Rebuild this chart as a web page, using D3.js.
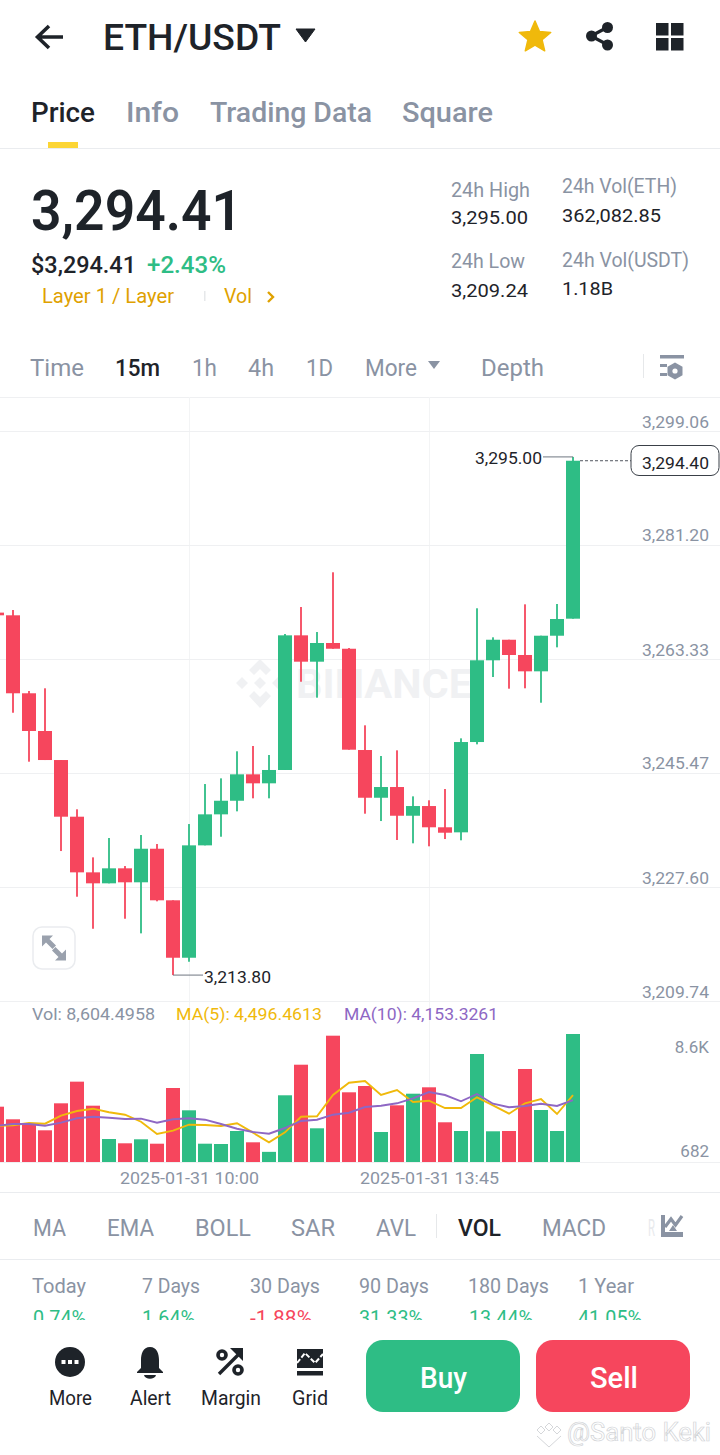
<!DOCTYPE html>
<html>
<head>
<meta charset="utf-8">
<script src="https://d3js.org/d3.v7.min.js"></script>
<style>
  html, body { margin: 0; padding: 0; background: #fff; overflow: hidden; }
  svg { display: block; }
  text { font-family: Roboto, "Noto Sans", sans-serif; }
</style>
</head>
<body>
<div id="chart"></div>
<script>
// candle index runs -1..35, each one is 15 minutes
var candleIdx = [-1,0,1,2,3,4,5,6,7,8,9,10,11,12,13,14,15,16,17,18,19,20,21,22,23,24,25,26,27,28,29,30,31,32,33,34,35];
var opens  = [3270.60,3270.18,3257.96,3252.05,3247.50,3238.62,3229.90,3228.18,3230.53,3228.34,3233.60,3225.52,3216.52,3234.13,3238.99,3241.12,3245.26,3243.85,3245.94,3267.04,3262.91,3265.84,3264.94,3249.07,3241.59,3243.27,3238.77,3240.29,3236.96,3236.17,3250.32,3263.13,3266.35,3263.96,3261.40,3266.98,3269.65];
var closes = [3270.18,3257.96,3252.05,3247.50,3238.62,3229.90,3228.18,3230.53,3228.34,3233.60,3225.52,3216.52,3234.13,3238.99,3241.12,3245.26,3243.85,3245.94,3267.04,3262.91,3265.84,3264.94,3249.12,3241.59,3243.27,3238.77,3240.29,3236.96,3236.11,3250.32,3263.13,3266.35,3263.96,3261.40,3266.98,3269.60,3294.40];
var highs  = [3270.60,3271.01,3258.32,3258.74,3247.50,3239.78,3232.25,3235.28,3230.89,3235.75,3234.34,3225.52,3237.47,3243.74,3244.63,3248.87,3249.70,3248.29,3267.25,3271.48,3267.56,3276.92,3265.05,3252.94,3248.13,3249.02,3241.81,3241.19,3242.96,3250.90,3271.28,3266.73,3266.35,3271.90,3266.98,3271.95,3295.00];
var lows   = [3270.18,3254.91,3247.24,3247.50,3233.24,3226.08,3221.06,3228.18,3222.63,3220.34,3225.36,3213.80,3215.89,3234.13,3235.48,3239.46,3241.50,3241.50,3245.94,3259.77,3257.27,3264.94,3249.12,3239.09,3237.94,3234.97,3234.45,3233.98,3235.12,3234.92,3249.96,3260.51,3258.68,3258.74,3256.48,3265.16,3269.65];
var volumes = [3718,2870,2600,2130,3945,5400,3785,1546,1257,1526,1230,4974,3475,1230,1210,2084,1324,682,4484,6540,2265,8490,4685,5109,2017,3811,4591,5021,2669,2084,7260,2064,2084,6252,3496,2084,8604];
var ma5  = [2420,2467,2622,2575,3112,3428,3583,3341,3180,2709,1882,2104,2507,2487,2420,2601,1970,1324,1996,3045,3072,4504,5331,5445,4504,4840,4033,4121,3630,3630,4349,3811,3247,3946,4235,3227,4496];
var ma10 = [2440,2554,2554,2440,2642,2938,3045,2978,2890,2911,2642,2870,2938,2843,2554,2238,2017,1902,2285,2756,2843,3180,3314,3697,3785,3946,4282,4705,4504,4080,4571,3919,3677,3764,3919,3764,4153];

var priceTicks = [3299.06,3281.20,3263.33,3245.47,3227.60,3209.74];
var volTicks = [8604,682];
var volTickLabels = ["8.6K","682"];
var timeTickIdx = [11,26];
var timeTickLabels = ["2025-01-31 10:00","2025-01-31 13:45"];

var GREEN = "#2ebd85", RED = "#f6465d", DARK = "#1e2329", GRAY = "#8a93a3", LINE = "#eff0f2", GOLD = "#f0b90b", PURPLE = "#8e67c4", AMBER = "#dfa100";

var svg = d3.select("#chart").append("svg").attr("width", 720).attr("height", 1455);

// text helper, widths are forced because the app font is not installed
function label(g, t, x, y, w, size, color, weight) {
  return g.append("text").text(t)
    .attr("x", x).attr("y", y)
    .attr("textLength", w).attr("lengthAdjust", "spacingAndGlyphs")
    .attr("font-size", size).attr("fill", color).attr("font-weight", weight || 400);
}
function rows(g, list, y, size, color, weight) {
  list.forEach(function(r) { label(g, r[0], r[1], y, r[2], size, r[3] || color, r[4] || weight); });
}

// ---------- header ----------
var head = svg.append("g");
head.append("path").attr("d", "M63 37H38M49 26L37.500 37L49 48").attr("fill", "none").attr("stroke", DARK).attr("stroke-width", 3.6);
label(head, "ETH/USDT", 103, 50, 178, 36, DARK, 500);
head.append("path").attr("d", "M296 29H315L305.500 42Z").attr("fill", DARK).attr("stroke", DARK).attr("stroke-linejoin", "round");
head.append("path").attr("d", d3.range(10).map(function(i) {
  var r = i % 2 ? 7.5 : 16.5, a = -Math.PI / 2 + i * Math.PI / 5;
  return (i ? "L" : "M") + (535 + r * Math.cos(a)).toFixed(1) + " " + (37.5 + r * Math.sin(a)).toFixed(1);
}).join("") + "Z").attr("fill", GOLD).attr("stroke", GOLD).attr("stroke-linejoin", "round").attr("stroke-width", 1.5);
head.append("path").attr("d", "M608 27L591 36L608 45").attr("fill", "none").attr("stroke", DARK).attr("stroke-width", 3.2);
[[607.5,27.5],[591.5,36],[607.5,45]].forEach(function(p) {
  head.append("circle").attr("cx", p[0]).attr("cy", p[1]).attr("r", 5.5).attr("fill", DARK);
});
[[656,23],[671,23],[656,38],[671,38]].forEach(function(p) {
  head.append("rect").attr("x", p[0]).attr("y", p[1]).attr("width", 12.500).attr("height", 12.500).attr("fill", DARK);
});

rows(head, [["Price",31,64,DARK,500],["Info",126,53],["Trading Data",210,162],["Square",402,91]], 122, 28, GRAY, 500);
head.append("rect").attr("x", 48).attr("y", 142).attr("width", 30).attr("height", 6).attr("fill", "#fcd535");
head.append("rect").attr("x", 0).attr("y", 148).attr("width", 720).attr("height", 1).attr("fill", "#eaecef");

label(head, "3,294.41", 31, 230, 211, 55, DARK, 600);
label(head, "$3,294.41", 31, 273, 105, 24, DARK, 500);
label(head, "+2.43%", 147, 273, 79, 24, GREEN, 500);
label(head, "Layer 1 / Layer", 42, 303, 132, 20, AMBER);
head.append("rect").attr("x", 204).attr("y", 291).attr("width", 1.5).attr("height", 10).attr("fill", "#e6e8ea");
label(head, "Vol", 224, 303, 28, 20, AMBER);
head.append("path").attr("d", "M268 292L273 297L268 302").attr("fill", "none").attr("stroke", AMBER).attr("stroke-width", 2.4);

label(head, "24h High", 451, 197, 79, 20, GRAY);
label(head, "3,295.00", 451, 224, 77, 19, DARK);
label(head, "24h Low", 451, 268, 74, 20, GRAY);
label(head, "3,209.24", 451, 297, 77, 19, DARK);
label(head, "24h Vol(ETH)", 562, 193, 115, 20, GRAY);
label(head, "362,082.85", 562, 222, 99, 19, DARK);
label(head, "24h Vol(USDT)", 562, 267, 127, 20, GRAY);
label(head, "1.18B", 562, 295, 51, 19, DARK);

rows(head, [["Time",30,54],["15m",115,45,DARK,500],["1h",192,25],["4h",248,26],["1D",306,27],["More",365,52],["Depth",481,63]], 376, 24, GRAY);
head.append("path").attr("d", "M428 361H440L434 369Z").attr("fill", GRAY);
head.append("rect").attr("x", 643).attr("y", 354).attr("width", 1).attr("height", 24).attr("fill", "#e6e8ea");
head.append("path").attr("d", "M660 355H684V358.500H660ZM660 364H667V367H660ZM660 373H667V376H660Z").attr("fill", GRAY);
head.append("path").attr("d", "M675 362.500L682.500 366.800V375.200L675 379.500L667.500 375.200V366.800Z").attr("fill", GRAY);
head.append("circle").attr("cx", 675).attr("cy", 371).attr("r", 2.6).attr("fill", "#fff");
head.append("rect").attr("x", 0).attr("y", 397).attr("width", 720).attr("height", 1).attr("fill", LINE);

// ---------- scales ----------
var x = d3.scaleLinear().domain([-1, 35]).range([-3, 573]);
var y = d3.scaleLinear().domain([3299.06, 3209.74]).range([431, 1001]);
var yVol = d3.scaleLinear().domain([0, 8604]).range([1162, 1034]);
var bodyW = 14;

// ---------- grids and axes ----------
var vGrid = svg.append("g").attr("transform", "translate(0,1162)")
  .call(d3.axisBottom(x).tickValues(timeTickIdx).tickFormat(function(d, i) { return timeTickLabels[i]; }).tickSizeInner(-765).tickSizeOuter(0));
vGrid.select(".domain").remove();
vGrid.selectAll("line").attr("stroke", "#f3f4f5");
vGrid.selectAll("text").attr("y", 22).attr("dy", 0).attr("font-size", 17).attr("fill", GRAY)
  .attr("textLength", 139).attr("lengthAdjust", "spacingAndGlyphs");
svg.append("rect").attr("x", 0).attr("y", 1162).attr("width", 720).attr("height", 1).attr("fill", LINE);

var yAxis = svg.append("g")
  .call(d3.axisRight(y).tickValues(priceTicks).tickFormat(d3.format(",.2f")).tickSize(720));
yAxis.select(".domain").remove();
yAxis.selectAll("line").attr("stroke", LINE);
yAxis.selectAll("text").attr("x", 709).attr("dy", -4).attr("text-anchor", "end").attr("font-size", 17).attr("fill", GRAY)
  .attr("textLength", 67).attr("lengthAdjust", "spacingAndGlyphs");

var volAxis = svg.append("g")
  .call(d3.axisRight(yVol).tickValues(volTicks).tickFormat(function(d, i) { return volTickLabels[i]; }).tickSize(0));
volAxis.select(".domain").remove();
volAxis.selectAll("text").attr("x", 709).attr("dy", function(d, i) { return i ? 5 : 18; })
  .attr("text-anchor", "end").attr("font-size", 17).attr("fill", GRAY);

// ---------- watermark ----------
var wm = svg.append("g").attr("fill", "#f0f1f3");
wm.append("path").attr("d", "M260 659L271 670L266 675L260 669L254 675L249 670ZM242 677L248 683L242 689L236 683ZM278 677L284 683L278 689L272 683ZM260 677L266 683L260 689L254 683ZM249 696L254 691L260 697L266 691L271 696L260 708Z");
label(wm, "BINANCE", 296, 698, 176, 40, "#f0f1f3", 700);

// ---------- candles ----------
var cg = svg.append("g").selectAll("g").data(candleIdx).enter().append("g")
  .attr("fill", function(d, i) { return closes[i] >= opens[i] ? GREEN : RED; });
cg.append("rect")
  .attr("x", function(d) { return x(d) - 0.9; }).attr("width", 1.8)
  .attr("y", function(d, i) { return y(highs[i]); })
  .attr("height", function(d, i) { return y(lows[i]) - y(highs[i]); });
cg.append("rect")
  .attr("x", function(d) { return x(d) - bodyW / 2; }).attr("width", bodyW)
  .attr("y", function(d, i) { return y(Math.max(opens[i], closes[i])); })
  .attr("height", function(d, i) { return Math.abs(y(opens[i]) - y(closes[i])); });

// high / low / last price callouts
var call = svg.append("g");
call.append("line").attr("x1", 543).attr("x2", x(35)).attr("y1", y(3295)).attr("y2", y(3295)).attr("stroke", "#6f7680").attr("stroke-width", 1);
label(call, "3,295.00", 475, 464, 67, 17, DARK);
call.append("line").attr("x1", x(10)).attr("x2", 203).attr("y1", y(3213.80)).attr("y2", y(3213.80)).attr("stroke", "#6f7680").attr("stroke-width", 1);
label(call, "3,213.80", 204, 983, 67, 17, DARK);
call.append("line").attr("x1", 580).attr("x2", 631).attr("y1", y(3294.40)).attr("y2", y(3294.40)).attr("stroke", "#50565f").attr("stroke-dasharray", "3,2");
call.append("rect").attr("x", 631).attr("y", 445.500).attr("width", 88).attr("height", 30).attr("rx", 8).attr("fill", "#fff").attr("stroke", "#3a4048");
label(call, "3,294.40", 642, 469, 67, 17, DARK);

// expand button
var ex = svg.append("g");
ex.append("rect").attr("x", 33).attr("y", 927).attr("width", 42).attr("height", 42).attr("rx", 9).attr("fill", "#fff").attr("stroke", "#eaecef").attr("stroke-width", 1.5);
ex.append("path").attr("d", "M42 935.500H53L49.500 939L56 945.500L52.500 949L46 942.500L42 946.500ZM66 960.500H55L58.500 957L52 950.500L55.500 947L62 953.500L66 949.500Z").attr("fill", "#9aa1ad");

// ---------- volume ----------
svg.append("g").selectAll("rect").data(candleIdx).enter().append("rect")
  .attr("x", function(d) { return x(d) - bodyW / 2; }).attr("width", bodyW)
  .attr("y", function(d, i) { return yVol(volumes[i]); })
  .attr("height", function(d, i) { return yVol(0) - yVol(volumes[i]); })
  .attr("fill", function(d, i) { return closes[i] >= opens[i] ? GREEN : RED; });

function maLine(values, color) {
  var line = d3.line().x(function(d) { return x(d); }).y(function(d, i) { return yVol(values[i]); });
  svg.append("path").datum(candleIdx).attr("d", line).attr("fill", "none").attr("stroke", color).attr("stroke-width", 1.9);
}
maLine(ma5, GOLD);
maLine(ma10, PURPLE);

label(svg, "Vol: 8,604.4958", 32, 1020, 123, 17, GRAY);
label(svg, "MA(5): 4,496.4613", 176, 1020, 146, 17, GOLD);
label(svg, "MA(10): 4,153.3261", 344, 1020, 154, 17, PURPLE);

// ---------- bottom ----------
var foot = svg.append("g");
foot.append("rect").attr("x", 0).attr("y", 1192).attr("width", 720).attr("height", 1).attr("fill", "#eaecef");
rows(foot, [["MA",33,33],["EMA",107,47],["BOLL",195,56],["SAR",291,44],["AVL",376,40],["VOL",458,43,DARK,500],["MACD",542,64]], 1236, 23, GRAY);
foot.append("rect").attr("x", 436).attr("y", 1214).attr("width", 1).attr("height", 24).attr("fill", "#e6e8ea");
label(foot, "R", 648, 1236, 7, 23, "#e8eaed");
foot.append("path").attr("d", "M661 1215H665V1232H683V1237H661Z").attr("fill", GRAY);
foot.append("path").attr("d", "M665 1227L671 1219L675.500 1225L682 1216").attr("fill", "none").attr("stroke", GRAY).attr("stroke-width", 3.2);
foot.append("path").attr("d", "M669 1231L673 1225L677 1231Z").attr("fill", GRAY);
foot.append("rect").attr("x", 0).attr("y", 1259).attr("width", 720).attr("height", 1).attr("fill", "#eaecef");

rows(foot, [["Today",32,54],["7 Days",142,58],["30 Days",250,70],["90 Days",359,70],["180 Days",468,81],["1 Year",578,56]], 1293, 20, GRAY);
svg.append("clipPath").attr("id", "pct").append("rect").attr("x", 0).attr("y", 1300).attr("width", 720).attr("height", 20);
var pct = foot.append("g").attr("clip-path", "url(#pct)");
rows(pct, [["0.74%",33,53],["1.64%",142,53],["-1.88%",250,62,RED],["31.33%",359,64],["13.44%",469,64],["41.05%",578,64]], 1325, 20, GREEN);

// toolbar icons
foot.append("circle").attr("cx", 70).attr("cy", 1362).attr("r", 15).attr("fill", DARK);
[63.5,70,76.5].forEach(function(cx) {
  foot.append("rect").attr("x", cx - 2).attr("y", 1360).attr("width", 4).attr("height", 4).attr("fill", "#fff");
});
foot.append("path").attr("d", "M150 1347C157 1347 159 1354 159 1360V1368L163 1372V1373H137V1372L141 1368V1360C141 1354 143 1347 150 1347ZM144 1375H156C155 1380 145 1380 144 1375Z").attr("fill", DARK);
// margin icon
foot.append("path").attr("d", "M219 1374L240 1353").attr("fill", "none").attr("stroke", DARK).attr("stroke-width", 3.4);
foot.append("path").attr("d", "M230 1348H243V1361Z").attr("fill", DARK);
[[222,1355],[238,1370]].forEach(function(p) {
  foot.append("circle").attr("cx", p[0]).attr("cy", p[1]).attr("r", 5.8).attr("fill", DARK);
  foot.append("circle").attr("cx", p[0]).attr("cy", p[1]).attr("r", 2.2).attr("fill", "#fff");
});
// grid icon
foot.append("path").attr("d", "M297 1349H323V1368H297ZM297 1371H323V1375.500H297Z").attr("fill", DARK);
foot.append("path").attr("d", "M297 1363L305 1353L315 1363L323 1354").attr("fill", "none").attr("stroke", "#fff").attr("stroke-width", 2).attr("stroke-dasharray", "5,2");

rows(foot, [["More",49,43],["Alert",130,41],["Margin",201,60],["Grid",292,36]], 1405, 20, DARK);
foot.append("rect").attr("x", 366).attr("y", 1340).attr("width", 154).attr("height", 72).attr("rx", 17).attr("fill", GREEN);
foot.append("rect").attr("x", 536).attr("y", 1340).attr("width", 154).attr("height", 72).attr("rx", 17).attr("fill", RED);
label(foot, "Buy", 420, 1388, 47, 29, "#fff", 500);
label(foot, "Sell", 590, 1388, 48, 29, "#fff", 500);

// source watermark
foot.append("path").attr("d", "M549 1423L553 1427L549 1431L545 1427ZM541 1426L545 1430L541 1434L537 1430ZM557 1426L561 1430L557 1434L553 1430ZM537 1436L549 1447L561 1436").attr("fill", "none").attr("stroke", "#d5d7da").attr("stroke-width", 1);
label(foot, "@Santo Keki", 567, 1441, 144, 25, "#fff").attr("stroke", "#d2d4d7").attr("stroke-width", 0.7);
</script>
</body>
</html>
